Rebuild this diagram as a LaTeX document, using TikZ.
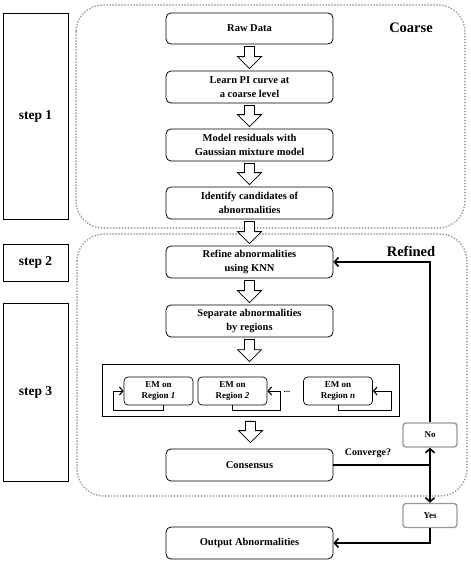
\documentclass[tikz,border=0pt]{standalone}
\usepackage{fontspec}
\setmainfont{Liberation Serif}
\usetikzlibrary{arrows.meta,calc}
\newcommand\blockarrow[4]{\draw[blockarr] let \p1=(#1.south), \p2=(#2.north) in
  (\x1-5pt,\y1-#3) -- (\x1+5pt,\y1-#3) -- (\x1+5pt,\y2+#4+12pt) -- (\x1+12pt,\y2+#4+12pt)
  -- (\x1,\y2+#4) -- (\x1-12pt,\y2+#4+12pt) -- (\x1-5pt,\y2+#4+12pt) -- cycle;}
\begin{document}
\begin{tikzpicture}[x=1pt,y=-1pt,
 mainbox/.style={draw, line width=0.8pt, rounded corners=5pt, minimum width=167pt, minimum height=32pt, align=center, font=\fontsize{10.5}{14}\selectfont\bfseries, inner sep=0pt},
 stepbox/.style={draw, line width=0.7pt, minimum width=65pt, font=\fontsize{13.5}{16}\selectfont\bfseries, inner sep=0pt},
 region/.style={draw=gray!75, line width=2pt, dash pattern=on 0pt off 3pt, line cap=round, rounded corners=27pt},
 embox/.style={draw, line width=0.7pt, rounded corners=4pt, minimum width=69pt, minimum height=28pt, align=center, font=\fontsize{9}{11}\selectfont\bfseries, inner sep=0pt},
 decbox/.style={draw=gray!80, line width=1.4pt, rounded corners=3pt, minimum width=54pt, minimum height=24pt, font=\fontsize{9}{11}\selectfont\bfseries, inner sep=0pt},
 blockarr/.style={draw, line width=0.8pt, fill=white, line join=miter},
 fb/.style={line width=1.6pt, -{Straight Barb[length=4pt,width=9pt]}},
 emloop/.style={line width=0.6pt, -{Straight Barb[length=3.5pt,width=8pt,line width=1.1pt]}},
 lbl/.style={font=\fontsize{14.5}{17}\selectfont\bfseries}
]
\useasboundingbox (0,0) rectangle (471,562);
% regions
\draw[region] (76,5) rectangle (465,228);
\draw[region] (77,234) rectangle (467,496);
\node[lbl] (coarse) at (411,28) {Coarse};
\node[lbl] (refined) at (411,251) {Refined};
% steps
\node[stepbox, minimum height=206pt] (s1) at (35.5,116) {step 1};
\node[stepbox, minimum height=37pt] (s2) at (35.5,262.5) {step 2};
\node[stepbox, minimum height=178pt] (s3) at (35.5,392) {step 3};
% main boxes
\node[mainbox, minimum height=31pt] (raw) at (249.5,28.5) {Raw Data};
\node[mainbox] (learn) at (249.5,87) {Learn PI curve at\\a coarse level};
\node[mainbox] (model) at (249.5,145) {Model residuals with\\Gaussian mixture model};
\node[mainbox] (ident) at (249.5,203) {Identify candidates of\\abnormalities};
\node[mainbox] (refine) at (249.5,262) {Refine abnormalities\\using KNN};
\node[mainbox] (sep) at (249.5,321) {Separate abnormalities\\by regions};
\node[draw, line width=0.7pt, minimum width=297pt, minimum height=52pt, inner sep=0pt] (emall) at (250.5,390) {};
\node[embox] (em1) at (158.5,391) {EM on\\Region \textit{1}};
\node[embox] (em2) at (232.5,391) {EM on\\Region \textit{2}};
\node[embox] (emn) at (338,391) {EM on\\Region \textit{n}};
\node[font=\fontsize{9}{11}\selectfont\bfseries] (dots) at (287,392) {...};
\node[mainbox] (cons) at (249.5,465) {Consensus};
\node[mainbox] (out) at (249.5,543) {Output Abnormalities};
\node[decbox] (no) at (430,435) {No};
\node[decbox] (yes) at (430,515.5) {Yes};
\node[font=\fontsize{10}{12}\selectfont\bfseries] (conv) at (368,453) {Converge?};
% block arrows
\blockarrow{raw}{learn}{2pt}{2pt}
\blockarrow{learn}{model}{2pt}{2pt}
\blockarrow{model}{ident}{2pt}{2pt}
\blockarrow{ident}{refine}{2pt}{2pt}
\blockarrow{refine}{sep}{2pt}{2pt}
\blockarrow{sep}{emall}{2pt}{2pt}
\blockarrow{emall}{cons}{5pt}{6pt}
% EM loops
\draw[emloop] ($(em1.south)+(4.5,0)$) |- (113,410) |- (em1.west);
\draw[emloop] (em2.south) |- (280,410) |- (em2.east);
\draw[emloop] (emn.south) |- (391,410) |- (emn.east);
% decision
\coordinate (j) at (no.south |- cons.east);
\draw[line width=1.2pt] (cons.east) -- (j);
\draw[fb] (j) -- (no.south);
\draw[fb] (j) -- (yes.north);
\draw[fb] (no.north) |- (refine.east);
\draw[fb] (yes.south) |- (out.east);
\end{tikzpicture}
\end{document}
